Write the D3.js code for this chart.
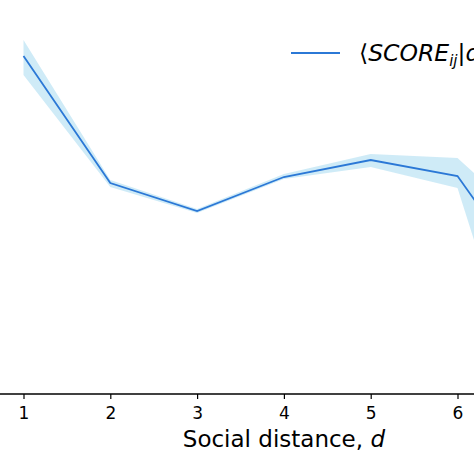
<!DOCTYPE html>
<html>
<head>
<meta charset="utf-8">
<title>Score vs social distance</title>
<script src="https://d3js.org/d3.v7.min.js"></script>
<style type="text/css">
	body{
		margin:0;
		background:white;
	}
	text{
		font-family: "DejaVu Sans", sans-serif;
		fill: black;
	}
	.band{
		fill: #87ceeb;
		fill-opacity: 0.4;
		stroke: none;
	}
	.meanLine{
		fill: none;
		stroke: #2b78d6;
		stroke-width: 1.8;
	}
</style>
</head>
<body>
<svg id="chart" width="474" height="474"></svg>
<script>
	// social distance d and mean score with its spread
	var distance = [1, 2, 3, 4, 5, 6, 7];
	var meanScore = [0.338, 0.211, 0.183, 0.217, 0.234, 0.218, 0.096];
	var upperScore = [0.354, 0.214, 0.185, 0.220, 0.240, 0.236, 0.157];
	var lowerScore = [0.319, 0.207, 0.181, 0.215, 0.227, 0.206, -0.067];
	var tickLabels = [1, 2, 3, 4, 5, 6];

	var svg = d3.select("#chart");
	var width = +svg.attr("width");
	var height = +svg.attr("height");
	var axisY = 394;

	var x = d3.scaleLinear()
		.domain([1, 6])
		.range([23.5, 457.5]);
	var y = d3.scaleLinear()
		.domain([0, 0.35])
		.range([axisY, 44]);

	svg.append("clipPath")
		.attr("id", "plotClip")
		.append("rect")
		.attr("x", 0)
		.attr("y", 0)
		.attr("width", width)
		.attr("height", axisY);

	var rows = distance.map(function(d, i){
		return {d: d, m: meanScore[i], lo: lowerScore[i], hi: upperScore[i]};
	});

	var plot = svg.append("g").attr("clip-path", "url(#plotClip)");

	var area = d3.area()
		.x(function(r){ return x(r.d); })
		.y0(function(r){ return y(r.lo); })
		.y1(function(r){ return y(r.hi); });

	var line = d3.line()
		.x(function(r){ return x(r.d); })
		.y(function(r){ return y(r.m); });

	plot.append("path")
		.datum(rows)
		.attr("class", "band")
		.attr("d", area);

	plot.append("path")
		.datum(rows)
		.attr("class", "meanLine")
		.attr("d", line);

	// bottom axis, spine runs across the whole picture
	var xAxis = d3.axisBottom(x)
		.tickValues(tickLabels)
		.tickFormat(d3.format("d"))
		.tickSize(5)
		.tickPadding(8);

	var gx = svg.append("g")
		.attr("transform", "translate(0," + axisY + ")")
		.call(xAxis);
	gx.select(".domain")
		.attr("d", "M0,0H" + width)
		.attr("stroke", "black")
		.attr("stroke-width", 1.5);
	gx.selectAll(".tick line")
		.attr("stroke", "black")
		.attr("stroke-width", 1.2);
	gx.selectAll(".tick text")
		.attr("font-family", "DejaVu Sans")
		.attr("font-size", 17)
		.attr("fill", "black");

	var xLabel = svg.append("text")
		.attr("x", x(4))
		.attr("y", 447)
		.attr("text-anchor", "middle")
		.attr("font-size", 23);
	xLabel.append("tspan").text("Social distance, ");
	xLabel.append("tspan").attr("font-style", "italic").text("d");

	// legend (cut by the right edge, as in the source figure)
	var legend = svg.append("g");
	legend.append("line")
		.attr("x1", 291)
		.attr("x2", 340)
		.attr("y1", 53)
		.attr("y2", 53)
		.attr("stroke", "#2b78d6")
		.attr("stroke-width", 1.8);

	var legText = legend.append("text")
		.attr("x", 359)
		.attr("y", 61)
		.attr("font-size", 23.5);
	legText.append("tspan").text("\u27e8");
	legText.append("tspan").attr("font-style", "italic").text("SCORE");
	legText.append("tspan").attr("font-style", "italic").attr("font-size", 15)
		.attr("dy", 5).text("ij");
	legText.append("tspan").attr("dy", -5).text("|");
	legText.append("tspan").attr("font-style", "italic").text("d");
	legText.append("tspan").text("\u27e9");
</script>
</body>
</html>
